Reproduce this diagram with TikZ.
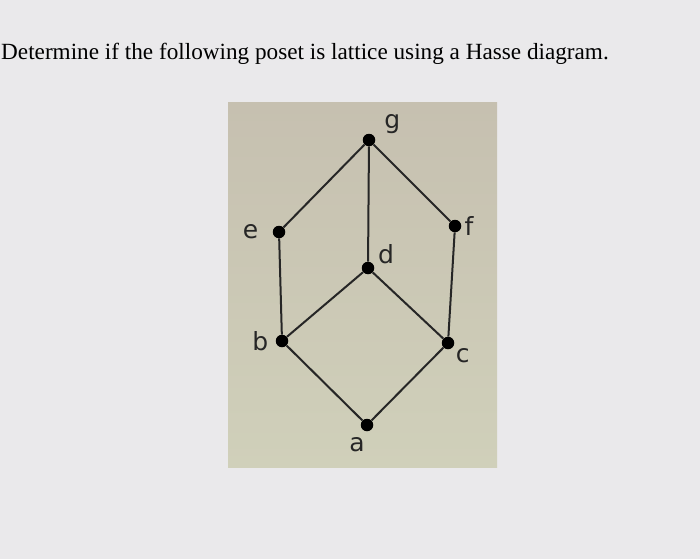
\documentclass[tikz,border=0pt]{standalone}
\usepackage{fontspec}
\setmainfont{Liberation Serif}
\newfontfamily\lblfont{DejaVu Sans}
\usetikzlibrary{backgrounds,calc,positioning,shapes}
\definecolor{screen}{RGB}{234,233,235}
\definecolor{paneltop}{RGB}{198,192,176}
\definecolor{panelbot}{RGB}{208,208,186}
\tikzstyle{element} = [circle, fill=black, inner sep=0pt, minimum size=12.5pt]
\tikzstyle{elabel} = [font=\lblfont\fontsize{25}{25}\selectfont, text=black!85, inner sep=0pt]
\tikzstyle{cover} = [draw, line width=2pt, black!85]
\begin{document}
\begin{tikzpicture}[x=1pt, y=-1pt]
    \useasboundingbox (0,0) rectangle (700,559);
    \fill [screen] (0,0) rectangle (700,559);
    \node (title) [anchor=west, inner sep=0pt, font=\fontsize{23.2}{26}\selectfont] at (1,54) {Determine if the following poset is lattice using a Hasse diagram.};
    \shade [top color=paneltop, bottom color=panelbot] (228,102) rectangle (497,467);

    \node (g) [element, label={[elabel, label distance=10pt]22:g}] at (369,140) {};
    \node (e) [element, label={[elabel, label distance=14pt]180:e}] at (279,232) {};
    \node (f) [element, label={[elabel, label distance=3pt]2:f}] at (455,226) {};
    \node (d) [element, label={[elabel, label distance=4pt]20:d}] at (368,268) {};
    \node (b) [element, label={[elabel, label distance=7pt]180:b}] at (282,341) {};
    \node (c) [element, label={[elabel, label distance=3pt]-35:c}] at (448,343) {};
    \node (a) [element, label={[elabel, label distance=6pt]-100:a}] at (367,425) {};

    \draw [cover] (g) -- (e);
    \draw [cover] (g) -- (d);
    \draw [cover] (g) -- (f);
    \draw [cover] (e) -- (b);
    \draw [cover] (f) -- (c);
    \draw [cover] (d) -- (b);
    \draw [cover] (d) -- (c);
    \draw [cover] (b) -- (a);
    \draw [cover] (c) -- (a);

\end{tikzpicture}
\end{document}
